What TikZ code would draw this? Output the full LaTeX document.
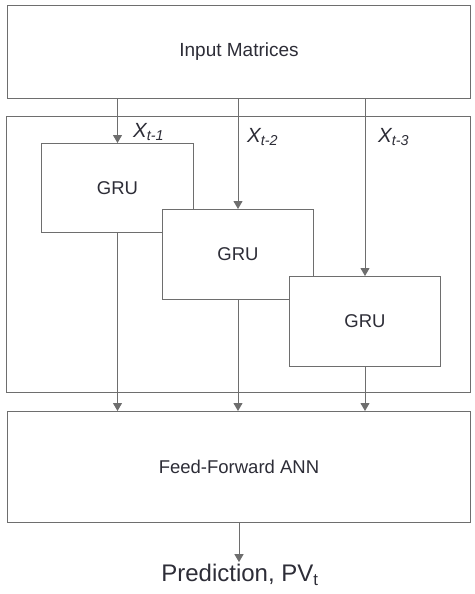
\documentclass[tikz,border=0pt]{standalone}
\usepackage{fontspec}
\setmainfont{Liberation Sans}
\usetikzlibrary{arrows.meta}
\definecolor{linegray}{RGB}{110,110,110}
\definecolor{txtgray}{RGB}{45,45,55}
\tikzset{
  blk/.style={draw=linegray, line width=1pt, fill=white, anchor=north west, inner sep=0pt, text=txtgray},
  arr/.style={draw=linegray, line width=1pt, -{Triangle[width=9pt,length=8pt]}},
  lbl/.style={text=txtgray, anchor=base west, inner sep=0pt, font=\fontsize{20.5}{24}\selectfont\itshape},
}

\begin{document}
\begin{tikzpicture}[x=1pt,y=-1pt]
\useasboundingbox (0,0) rectangle (474,594);
% outer blocks
\node[blk, minimum width=463pt, minimum height=93pt, font=\fontsize{19}{22}\selectfont] (inp) at (7,5) {Input Matrices};
\node[blk, minimum width=464pt, minimum height=276pt] (rnn) at (6,116) {};
\node[blk, minimum width=463pt, minimum height=111pt, font=\fontsize{18.5}{22}\selectfont] (ffn) at (7,411) {Feed-Forward ANN};
% stacked GRUs
\node[blk, minimum width=152pt, minimum height=89pt, font=\fontsize{18.5}{20}\selectfont] (gru1) at (41,143) {GRU};
\node[blk, minimum width=151pt, minimum height=90pt, font=\fontsize{18.5}{20}\selectfont] (gru2) at (162,209) {GRU};
\node[blk, minimum width=151pt, minimum height=90pt, font=\fontsize{18.5}{20}\selectfont] (gru3) at (289,276) {GRU};
\node[text=txtgray, inner sep=2pt, font=\fontsize{24}{28}\selectfont] (pred) at (240,575) {Prediction, PV\textsubscript{t}};
% inputs
\node[lbl] (xt1) at (133,137) {X\textsubscript{t-1}};
\node[lbl] (xt2) at (247,142) {X\textsubscript{t-2}};
\node[lbl] (xt3) at (378,142) {X\textsubscript{t-3}};
\draw[arr] (gru1.north |- inp.south) -- (gru1.north);
\draw[arr] (gru2.north |- inp.south) -- (gru2.north);
\draw[arr] (gru3.north |- inp.south) -- (gru3.north);
% outputs
\draw[arr] (gru1.south) -- (gru1.south |- ffn.north);
\draw[arr] (gru2.south) -- (gru2.south |- ffn.north);
\draw[arr] (gru3.south) -- (gru3.south |- ffn.north);
\draw[arr] (ffn.south) -- (ffn.south |- pred.north);
\end{tikzpicture}
\end{document}
